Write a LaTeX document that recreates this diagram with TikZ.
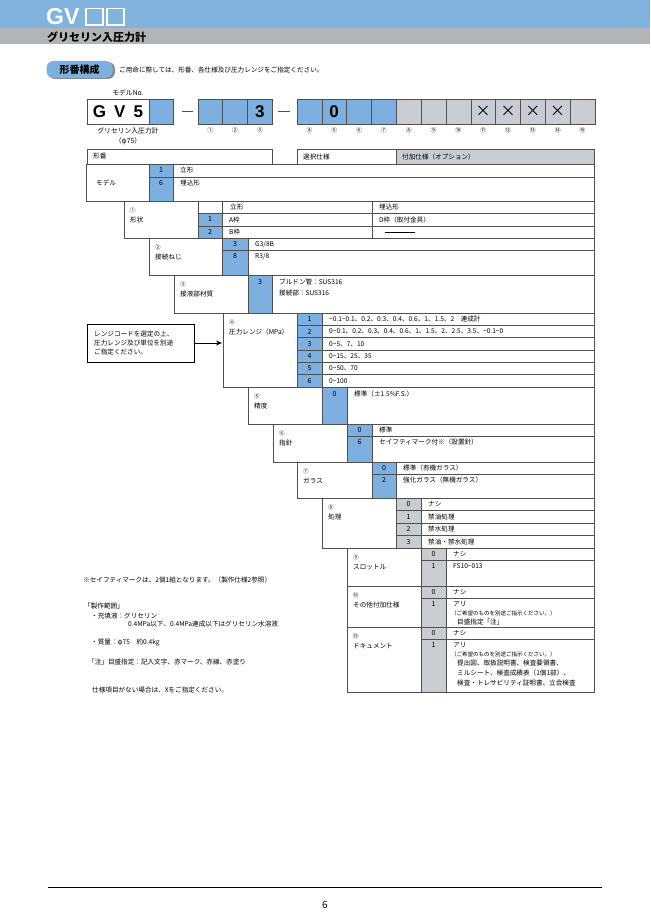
\documentclass[tikz,border=0pt]{standalone}
\usetikzlibrary{arrows.meta}
\usepackage{fontspec}
\setmainfont{Noto Sans CJK JP}
\newfontfamily\hdf{Liberation Sans}
\definecolor{bl}{HTML}{7DB0E0}
\definecolor{gr}{HTML}{C9CCD0}
\definecolor{tline}{HTML}{505050}
\definecolor{band}{HTML}{82B2DE}
\definecolor{gband}{HTML}{B2B4B7}
\newcommand\Sect[8]{%
  \fill[#6] (#4,#2) rectangle (#5,#3);
  \draw[tl] (#1,#2) rectangle (594,#3);
  \draw[tl] (#4,#2) -- (#4,#3) (#5,#2) -- (#5,#3);
  \node[t,font=\fontsize{5.5}{6}\selectfont] at (#1+6,#2+9) {#7};
  \node[t] at (#1+6,#2+19) {#8};}
\newcommand\Rw[5]{%
  \node[c] at ({(#1+#2)/2},#3) {#4};
  \node[t] at (#2+7,#3) {#5};}
\begin{document}
\begin{tikzpicture}[x=1pt,y=-1pt,
  tl/.style={draw=tline,line width=0.6pt},
  t/.style={font=\fontsize{6.6}{7.5}\selectfont,inner sep=0,anchor=west},
  c/.style={font=\fontsize{7}{8}\selectfont,inner sep=0},
  big/.style={font=\hdf\bfseries\fontsize{17}{17}\selectfont,inner sep=0},
  sm/.style={font=\fontsize{5.8}{6}\selectfont,inner sep=0}]
\useasboundingbox[fill=white] (0,0) rectangle (650,920);
% header bands
\fill[band] (0,0) rectangle (650,28);
\fill[gband] (0,28) rectangle (650,44);
\node[anchor=west,inner sep=0,text=white,font=\hdf\bfseries\fontsize{23}{23}\selectfont] (title) at (46,16.5) {GV};
\draw[white,line width=1.3pt] (86,8.5) rectangle (103,25) (107,8.5) rectangle (124,25);
\node[anchor=west,inner sep=0,font=\bfseries\fontsize{11}{11}\selectfont] (sub) at (47,37) {グリセリン入圧力計};
% pill
\fill[black!45,rounded corners=7pt] (48,62) rectangle (115,79);
\node[fill=bl,rounded corners=7pt,minimum width=66pt,minimum height=17pt,inner sep=0,font=\bfseries\fontsize{10}{10}\selectfont] (pill) at (79.5,69.5) {形番構成};
\node[t] (intro) at (119,70) {ご用命に際しては、形番、各仕様及び圧力レンジをご指定ください。};
% code boxes
\node[t,font=\fontsize{6.8}{7}\selectfont,anchor=center] (mno) at (128,93) {モデルNo.};
\draw[tl,fill=white] (87,99) rectangle (149,124);
\node[big] (gv5) at (118,111.5) {G\hspace{8pt}V\hspace{8pt}5};
\draw[tl,fill=bl] (149,99) rectangle (173,124);
\draw[line width=0.8pt,tline] (182,111.5) -- (193,111.5);
\foreach \i in {0,1,2}{\draw[tl,fill=bl] (198+24.7*\i,99) rectangle (222.7+24.7*\i,124);}
\node[big] (c3) at (259.8,111.5) {3};
\draw[line width=0.8pt,tline] (278,111.5) -- (290,111.5);
\foreach \i in {0,...,3}{\draw[tl,fill=bl] (297+24.83*\i,99) rectangle (321.83+24.83*\i,124);}
\foreach \i in {4,...,11}{\draw[tl,fill=gr] (297+24.83*\i,99) rectangle (321.83+24.83*\i,124);}
\node[big] (c0) at (334.2,111.5) {0};
\foreach \i in {7,...,10}{\node[inner sep=0,font=\fontsize{15}{15}\selectfont] at (309.4+24.83*\i,111.5) {×};}
\foreach \n [count=\k from 0] in {①,②,③}{\node[sm] at (210.3+24.7*\k,130) {\n};}
\foreach \n [count=\k from 0] in {④,⑤,⑥,⑦,⑧,⑨,⑩,⑪,⑫,⑬,⑭,⑮}{\node[sm] at (309.4+24.83*\k,130) {\n};}
\node[c,font=\fontsize{6.8}{7}\selectfont] (gname) at (128,131) {グリセリン入圧力計};
\node[c,font=\fontsize{6.8}{7}\selectfont] (phi) at (128,141) {（φ75）};
% header row
\draw[tl] (87,149) rectangle (272,164);
\node[t] at (93,156.5) {形番};
\fill[gr] (396,149) rectangle (594,164);
\draw[tl] (297,149) rectangle (594,164) (396,149) -- (396,164);
\node[t] at (303,156.5) {選択仕様};
\node[t] at (402,156.5) {付加仕様（オプション）};
% model
\Sect{86}{164}{201}{149}{173}{bl}{}{}
\node[t] at (96,183) {モデル};
\draw[tl] (149,177) -- (594,177);
\Rw{149}{173}{170.5}{1}{立形}
\Rw{149}{173}{183}{6}{埋込形}
% 1
\Sect{124}{201}{238}{198}{222}{white}{①}{形状}
\fill[bl] (198,213) rectangle (222,238);
\draw[tl] (198,213) -- (594,213) (198,226) -- (594,226) (372,201) -- (372,238) (198,201)--(198,238) (222,201)--(222,238);
\node[t] at (230,207) {立形};
\node[t] at (379,207) {埋込形};
\Rw{198}{222}{219.5}{1}{A枠}
\node[t] at (379,219.5) {D枠（取付金具）};
\Rw{198}{222}{232}{2}{B枠}
\draw[line width=0.6pt] (385,232) -- (415,232);
% 2
\Sect{149}{238}{275}{222}{248}{bl}{②}{接続ねじ}
\draw[tl] (222,250) -- (594,250);
\Rw{222}{248}{244}{3}{G3/8B}
\Rw{222}{248}{256}{8}{R3/8}
% 3
\Sect{174}{275}{313}{248}{272}{bl}{③}{接液部材質}
\Rw{248}{272}{282}{3}{ブルドン管：SUS316}
\node[t] at (279,293) {接続部：SUS316};
% 4
\Sect{223}{313}{387}{297}{322}{bl}{④}{圧力レンジ（MPa）}
\foreach \k in {1,...,5}{\draw[tl] (297,313+12.33*\k) -- (594,313+12.33*\k);}
\Rw{297}{322}{319.2}{1}{−0.1\textasciitilde 0.1、0.2、0.3、0.4、0.6、1、1.5、2　連成計}
\Rw{297}{322}{331.5}{2}{0\textasciitilde 0.1、0.2、0.3、0.4、0.6、1、1.5、2、2.5、3.5、−0.1\textasciitilde 0}
\Rw{297}{322}{343.8}{3}{0\textasciitilde 5、7、10}
\Rw{297}{322}{356.2}{4}{0\textasciitilde 15、25、35}
\Rw{297}{322}{368.5}{5}{0\textasciitilde 50、70}
\Rw{297}{322}{380.8}{6}{0\textasciitilde 100}
% callout
\node[draw=black,line width=1pt,minimum width=107pt,minimum height=38pt,inner sep=0] (call) at (140.5,343) {};
\node[t,align=left,font=\fontsize{6.6}{9}\selectfont] at (94,343) {レンジコードを選定の上、\\圧力レンジ及び単位を別途\\ご指定ください。};
\coordinate (r4) at (222,343);
\draw[line width=0.9pt,-{Stealth[length=6pt,width=5pt]}] (call.east) -- (r4);
% 5
\Sect{248}{387}{424}{322}{347}{bl}{⑤}{精度}
\Rw{322}{347}{394}{0}{標準（±1.5\%F.S.）}
% 6
\Sect{273}{424}{462}{347}{372}{bl}{⑥}{指針}
\draw[tl] (347,436) -- (594,436);
\Rw{347}{372}{430}{0}{標準}
\Rw{347}{372}{442}{6}{セイフティマーク付※（設置針）}
% 7
\Sect{297}{462}{498}{372}{396}{bl}{⑦}{ガラス}
\draw[tl] (372,474) -- (594,474);
\Rw{372}{396}{468}{0}{標準（有機ガラス）}
\Rw{372}{396}{480}{2}{強化ガラス（無機ガラス）}
% 8
\Sect{322}{498}{548}{396}{421}{gr}{⑧}{処理}
\foreach \k in {1,2,3}{\draw[tl] (396,498+12.5*\k) -- (594,498+12.5*\k);}
\Rw{396}{421}{504.2}{0}{ナシ}
\Rw{396}{421}{516.7}{1}{禁油処理}
\Rw{396}{421}{529.2}{2}{禁水処理}
\Rw{396}{421}{541.7}{3}{禁油・禁水処理}
% 9
\Sect{347}{548}{586}{421}{446}{gr}{⑨}{スロットル}
\draw[tl] (421,560) -- (594,560);
\Rw{421}{446}{554}{0}{ナシ}
\Rw{421}{446}{566}{1}{FS10−013}
% 10
\Sect{347}{586}{627}{421}{446}{gr}{⑩}{その他付加仕様}
\draw[tl] (421,598) -- (594,598);
\Rw{421}{446}{592}{0}{ナシ}
\Rw{421}{446}{604}{1}{アリ}
\node[t,font=\fontsize{5.5}{6}\selectfont] at (451,613) {（ご希望のものを別途ご指示ください。）};
\node[t] at (457,621.5) {目盛指定「注」};
% 15
\Sect{347}{627}{692}{421}{446}{gr}{⑮}{ドキュメント}
\draw[tl] (421,639) -- (594,639);
\Rw{421}{446}{633}{0}{ナシ}
\Rw{421}{446}{645}{1}{アリ}
\node[t,font=\fontsize{5.5}{6}\selectfont] at (451,654) {（ご希望のものを別途ご指示ください。）};
\node[t,align=left,font=\fontsize{6.6}{10}\selectfont] at (457,673.5) {提出図、取扱説明書、検査要領書、\\ミルシート、検査成績表（1個1部）、\\検査・トレサビリティ証明書、立会検査};
% notes
\node[t] (n1) at (83,580) {※セイフティマークは、2個1組となります。（製作仕様2参照）};
\node[t] (n2) at (84,606) {「製作範囲」};
\node[t] (n3) at (91,615.5) {・充填液：グリセリン};
\node[t] (n4) at (128,624.5) {0.4MPa以下、0.4MPa連成以下はグリセリン水溶液};
\node[t] (n5) at (91,643) {・質量：φ75　約0.4kg};
\node[t] (n6) at (88,662) {「注」目盛指定：記入文字、赤マーク、赤線、赤塗り};
\node[t] (n7) at (92,690) {仕様項目がない場合は、Xをご指定ください。};
% footer
\draw[line width=0.8pt] (48,887) -- (602,887);
\node[inner sep=0,font=\fontsize{10}{10}\selectfont] (pg) at (325,905) {6};
\end{tikzpicture}
\end{document}
